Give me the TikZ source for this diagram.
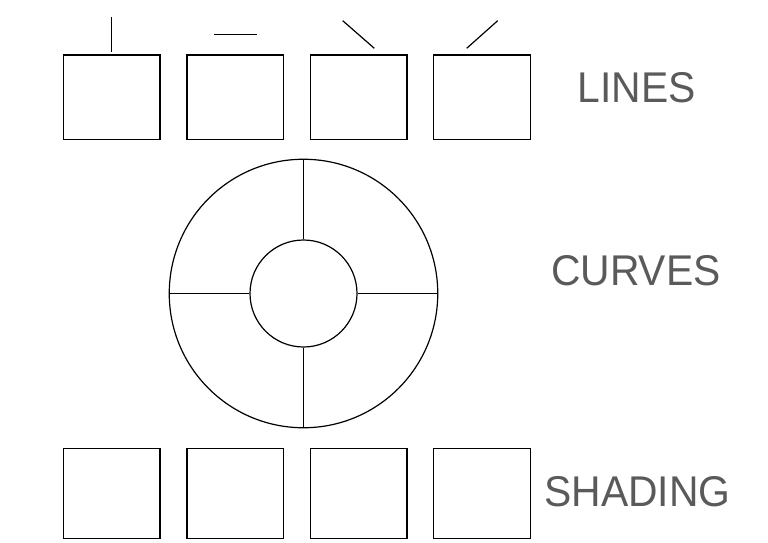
\documentclass[tikz,border=0pt]{standalone}
\usepackage{fontspec}
\setmainfont{Liberation Sans}
\newfontfamily\labelfont[FakeStretch=0.95]{Liberation Sans}
\definecolor{labelgray}{HTML}{5A5A5A}
\begin{document}
\begin{tikzpicture}[x=1pt,y=-1pt,
  box/.style={draw=black,line width=1.2pt,inner sep=0pt,minimum width=96.7pt,fill=white},
  topbox/.style={box,minimum height=84.3pt},
  botbox/.style={box,minimum height=90pt},
  ring/.style={draw=black,line width=1.2pt,circle,inner sep=0pt},
  stroke/.style={draw=black,line width=1.2pt},
  lbl/.style={anchor=base,text=labelgray,font=\labelfont\fontsize{43}{43}\selectfont,inner sep=0pt}]
\useasboundingbox (0,0) rectangle (768,543);
\fill[white] (0,0) rectangle (768,543);
% top boxes
\node[topbox] (t1) at (111.7,97.2) {};
\node[topbox] (t2) at (235.3,97.2) {};
\node[topbox] (t3) at (358.7,97.2) {};
\node[topbox] (t4) at (482.2,97.2) {};
% short strokes above
\coordinate (a1) at (111.3,17.3); \coordinate (b1) at (111.3,51.7);
\coordinate (a2) at (214.3,34.3); \coordinate (b2) at (256.7,34.3);
\coordinate (a3) at (342.7,20.7); \coordinate (b3) at (374.3,48.3);
\coordinate (a4) at (497.7,20.7); \coordinate (b4) at (466.7,48.3);
\draw[stroke] (a1) -- (b1);
\draw[stroke] (a2) -- (b2);
\draw[stroke] (a3) -- (b3);
\draw[stroke] (a4) -- (b4);
% circles
\node[ring,minimum size=268.5pt] (outer) at (303.5,293.5) {};
\node[ring,minimum size=107pt] (inner) at (303.5,293.5) {};
\draw[stroke] (inner.north) -- (outer.north);
\draw[stroke] (inner.south) -- (outer.south);
\draw[stroke] (inner.west) -- (outer.west);
\draw[stroke] (inner.east) -- (outer.east);
% bottom boxes
\node[botbox] (s1) at (111.7,493.3) {};
\node[botbox] (s2) at (235.3,493.3) {};
\node[botbox] (s3) at (358.7,493.3) {};
\node[botbox] (s4) at (482.2,493.3) {};
% labels
\node[lbl] (lines) at (636.7,102.3) {LINES};
\node[lbl] (curves) at (635.8,285.7) {CURVES};
\node[lbl] (shading) at (637.5,506.7) {SHADING};
\end{tikzpicture}
\end{document}
